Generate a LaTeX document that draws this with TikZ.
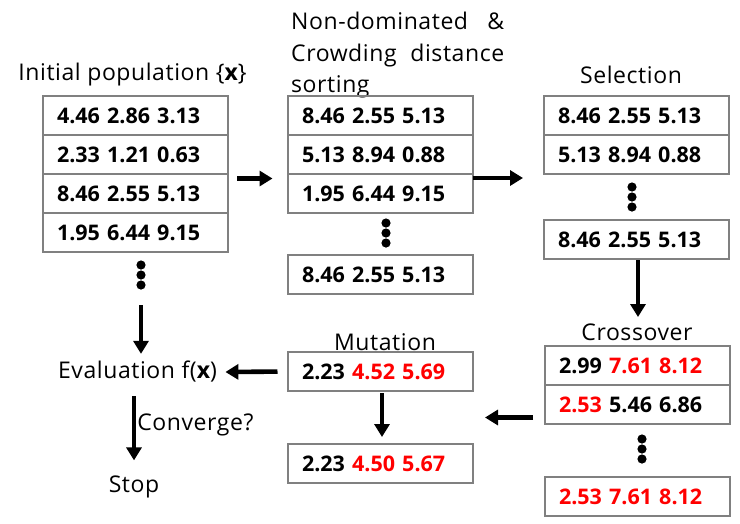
\documentclass[tikz,border=0pt]{standalone}
\usepackage{fontspec}
\setmainfont{Open Sans}
\newfontfamily\labelfont[LetterSpace=2.5]{Open Sans}
\usetikzlibrary{arrows.meta, positioning, calc}

% three big dots standing for the rest of the population
\newcommand{\tridots}[1]{%
  \foreach \k in {-1,0,1} \fill (#1) ++(0,10*\k) circle (4.6pt);}

\begin{document}
\begin{tikzpicture}[x=1pt, y=-1pt,
    every node/.style={font=\labelfont\fontsize{23}{31.5}\selectfont},
    cell/.style={draw=gray, line width=1.2pt, outer sep=0pt, inner xsep=14pt,
      text width=157pt, minimum height=39pt, align=left,
      font=\normalfont\fontsize{21.5}{24}\selectfont\bfseries},
    flow/.style={line width=4.6pt, -{Triangle[width=15pt,length=13pt]}}]
  \useasboundingbox (0,0) rectangle (740,523);

  % initial population
  \node (intitle) at (132.5,75) {Initial population \{{\bfseries x}\}};
  \node[cell] (in1) at (135.5,115.5) {4.46 2.86 3.13};
  \node[cell, below=0pt of in1] (in2) {2.33 1.21 0.63};
  \node[cell, below=0pt of in2] (in3) {8.46 2.55 5.13};
  \node[cell, below=0pt of in3] (in4) {1.95 6.44 9.15};
  \coordinate (indots) at (141,275);
  \tridots{indots}

  % non-dominated sorting
  \node[anchor=north west, align=left, inner sep=0pt] (ndtitle) at (291,12)
    {\makebox[213pt][s]{Non-dominated \&}\\
     \makebox[213pt][s]{Crowding distance}\\
     sorting};
  \node[cell] (nd1) at (380.5,115.5) {8.46 2.55 5.13};
  \node[cell, below=0pt of nd1] (nd2) {5.13 8.94 0.88};
  \node[cell, below=0pt of nd2] (nd3) {1.95 6.44 9.15};
  \tridots{386,233}
  \node[cell] (nd4) at (380.5,274.5) {8.46 2.55 5.13};

  % selection
  \node (seltitle) at (631,75) {Selection};
  \node[cell] (sel1) at (636.5,115.5) {8.46 2.55 5.13};
  \node[cell, below=0pt of sel1] (sel2) {5.13 8.94 0.88};
  \tridots{632,197}
  \node[cell] (sel3) at (636.5,239.5) {8.46 2.55 5.13};

  % crossover
  \node (crtitle) at (637,332) {Crossover};
  \node[cell] (cr1) at (637.5,365.5) {2.99 \textcolor{red}{7.61 8.12}};
  \node[cell, below=0pt of cr1] (cr2) {\textcolor{red}{2.53} 5.46 6.86};
  \tridots{642,449}
  \node[cell] (cr3) at (637.5,496.5) {\textcolor{red}{2.53 7.61 8.12}};

  % mutation
  \node (mutitle) at (385,342) {Mutation};
  \node[cell] (mu1) at (380.5,371.5) {2.23 \textcolor{red}{4.52 5.69}};
  \node[cell] (mu2) at (380.5,463.5) {2.23 \textcolor{red}{4.50 5.67}};
  \coordinate (mumid) at ($(mu1.east)!.5!(mu2.east)$);

  % evaluation and stop
  \node (ev) at (137.5,372) {Evaluation f({\bfseries x})};
  \node (stop) at (134,487) {Stop};

  % flow of the algorithm
  \draw[flow, shorten <=9pt, shorten >=15.5pt]
    ([yshift=-4.5pt]in3.north east) -- ([yshift=-4.5pt]nd3.north west);
  \draw[flow, shorten >=21pt]
    ([yshift=-4pt]nd3.north east) -- ([yshift=-4pt]sel2.south west);
  \draw[flow, shorten <=1pt, shorten >=3pt]
    ([xshift=1.5pt]sel3.south) -- ([xshift=1.5pt]sel3.south |- crtitle.north);
  \draw[flow, shorten <=12pt, shorten >=12pt] (cr2.west |- mumid) -- (mumid);
  \draw[flow, shorten <=2pt, shorten >=7pt]
    ([xshift=1.5pt]mu1.south) -- ([xshift=1.5pt]mu2.north);
  \draw[flow, shorten <=10.5pt] (mu1.west) -- ([xshift=5pt]ev.east);
  \draw[flow, shorten <=30pt, shorten >=4pt] (indots) -- (indots |- ev.north);
  \draw[flow, shorten <=10pt, shorten >=12pt] (ev.south -| stop.north) -- (stop.north)
    node[pos=0.45, right, inner sep=1pt] {Converge?};
\end{tikzpicture}
\end{document}
